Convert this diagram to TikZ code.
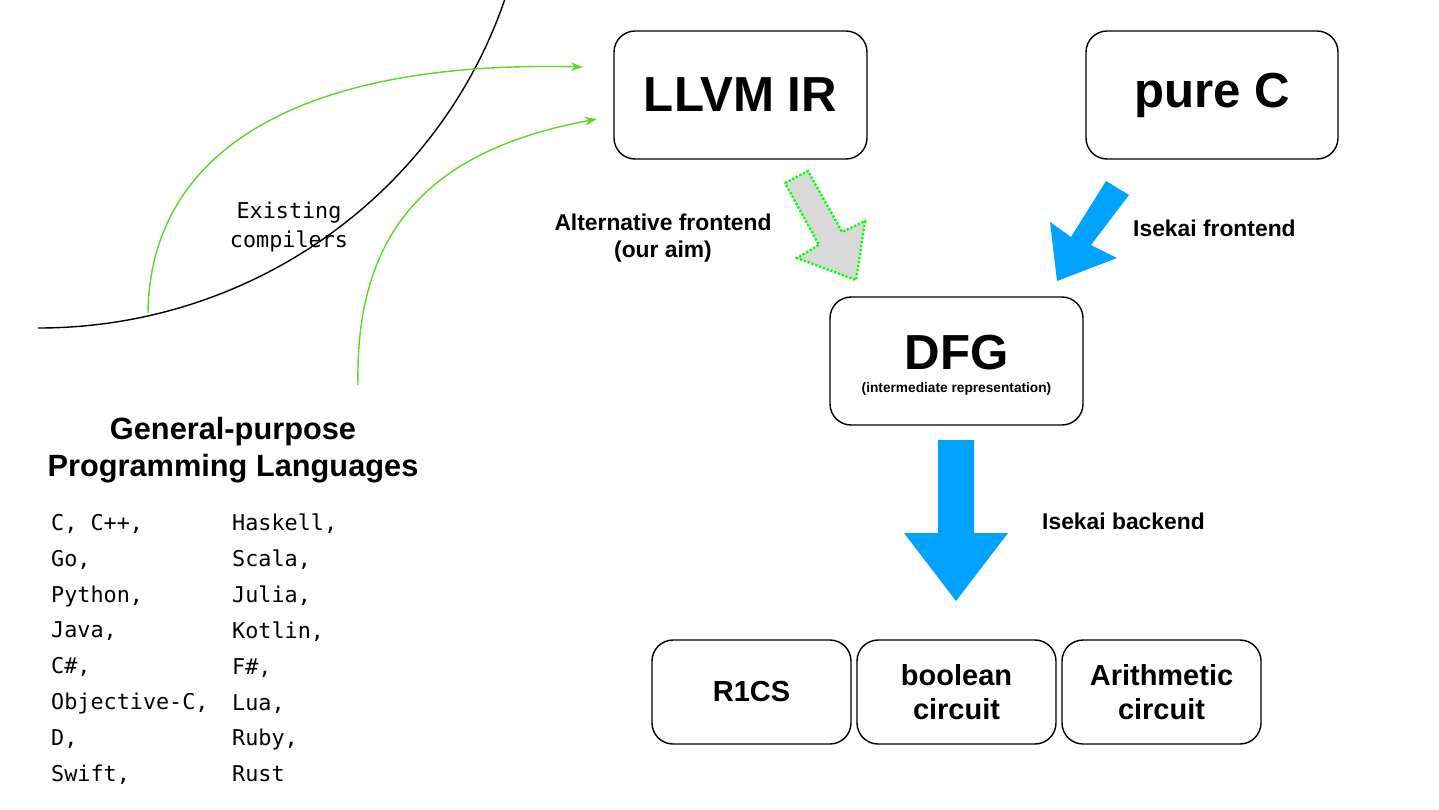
\documentclass[tikz,border=0pt]{standalone}
\usepackage{fontspec}
\setmainfont{Liberation Sans}
\newfontfamily\monofont{DejaVu Sans Mono}
\usetikzlibrary{arrows.meta}
\definecolor{isekai}{HTML}{00A2FF}
\definecolor{compgreen}{HTML}{5CD62C}
\tikzset{
  box/.style={draw, thick, rounded corners=12pt, inner sep=0pt},
  lbl/.style={font=\bfseries\fontsize{13}{15}\selectfont, align=center},
  comp/.style={draw=compgreen, thick, -{Stealth[length=7pt,width=5pt]}},
  mono/.style={font=\monofont\fontsize{12.4}{20.4}\selectfont, align=left, anchor=north west}
}
\begin{document}
\begin{tikzpicture}[x=0.02cm, y=-0.02cm]
      \useasboundingbox (0,0) rectangle (1439,809);

      % Boxes for the front ends
      \node[box, minimum width=253*0.02cm, minimum height=128*0.02cm, font=\bfseries\fontsize{28}{30}\selectfont] (llvm) at (740.5,95) {LLVM IR};
      \node[box, minimum width=252*0.02cm, minimum height=128*0.02cm, font=\bfseries\fontsize{28}{30}\selectfont] (purec) at (1212,95) {pure C};

      % Box for DFG
      \node[box, minimum width=253*0.02cm, minimum height=128*0.02cm] (dfg) at (956.5,361) {};
      \node[font=\bfseries\fontsize{28}{30}\selectfont] (dfgname) at (956.5,353) {DFG};
      \node[font=\bfseries\fontsize{7.8}{9}\selectfont] (dfgsub) at (956.5,389) {(intermediate representation)};

      % Boxes for the targets
      \foreach \x/\name/\txt in {751.5/rics/R1CS, 956.5/bool/boolean\\circuit, 1161.5/arith/Arithmetic\\circuit}
        \node[box, minimum width=199*0.02cm, minimum height=104*0.02cm, lbl, font=\bfseries\fontsize{16.5}{19}\selectfont] (\name) at (\x,692) {\txt};

      % Alternative frontend
      \filldraw[fill=gray!30, draw=green, densely dotted, line width=1.3pt]
        (785,183) -- (808,171) -- (842,232) -- (865,221) -- (856,280) -- (797,258) -- (819,245) -- cycle;
      \node[lbl] (alt) at (663,238) {Alternative frontend\\(our aim)};

      % Isekai frontend
      \fill[isekai] (1106,181) -- (1129,195) -- (1091,245) -- (1117,258) -- (1057,281) -- (1050,222) -- (1071,237) -- cycle;
      \node[lbl, anchor=west] (front) at (1127,228) {Isekai frontend};

      % Isekai backend
      \fill[isekai] (938,440) -- (974,440) -- (974,533) -- (1008,533) -- (956,601) -- (904,533) -- (938,533) -- cycle;
      \node[lbl, anchor=west] (back) at (1036,521) {Isekai backend};

      % Languages
      \draw[thick] (38,328) arc[start angle=90, end angle=0, x radius=492, y radius=481];
      \node[font=\bfseries\fontsize{17.5}{21}\selectfont, align=center] (gpl) at (233,450) {General-purpose\\Programming Languages};
      \node[mono] (langa) at (45,508) {C, C++,\\Go,\\Python,\\Java,\\C\#,\\Objective-C,\\D,\\Swift,};
      \node[mono] (langb) at (226,508) {Haskell,\\Scala,\\Julia,\\Kotlin,\\F\#,\\Lua,\\Ruby,\\Rust};

      % Existing compilers
      \coordinate (srca) at (148,313);
      \coordinate (srcb) at (358,385);
      \draw[comp] (srca) .. controls (150,150) and (300,60) .. (583,67);
      \draw[comp] (srcb) .. controls (355,230) and (430,150) .. (597,119);
      \node[font=\monofont\fontsize{12.4}{16.5}\selectfont, align=center] (exist) at (289,227) {Existing\\compilers};
    \end{tikzpicture}
\end{document}
